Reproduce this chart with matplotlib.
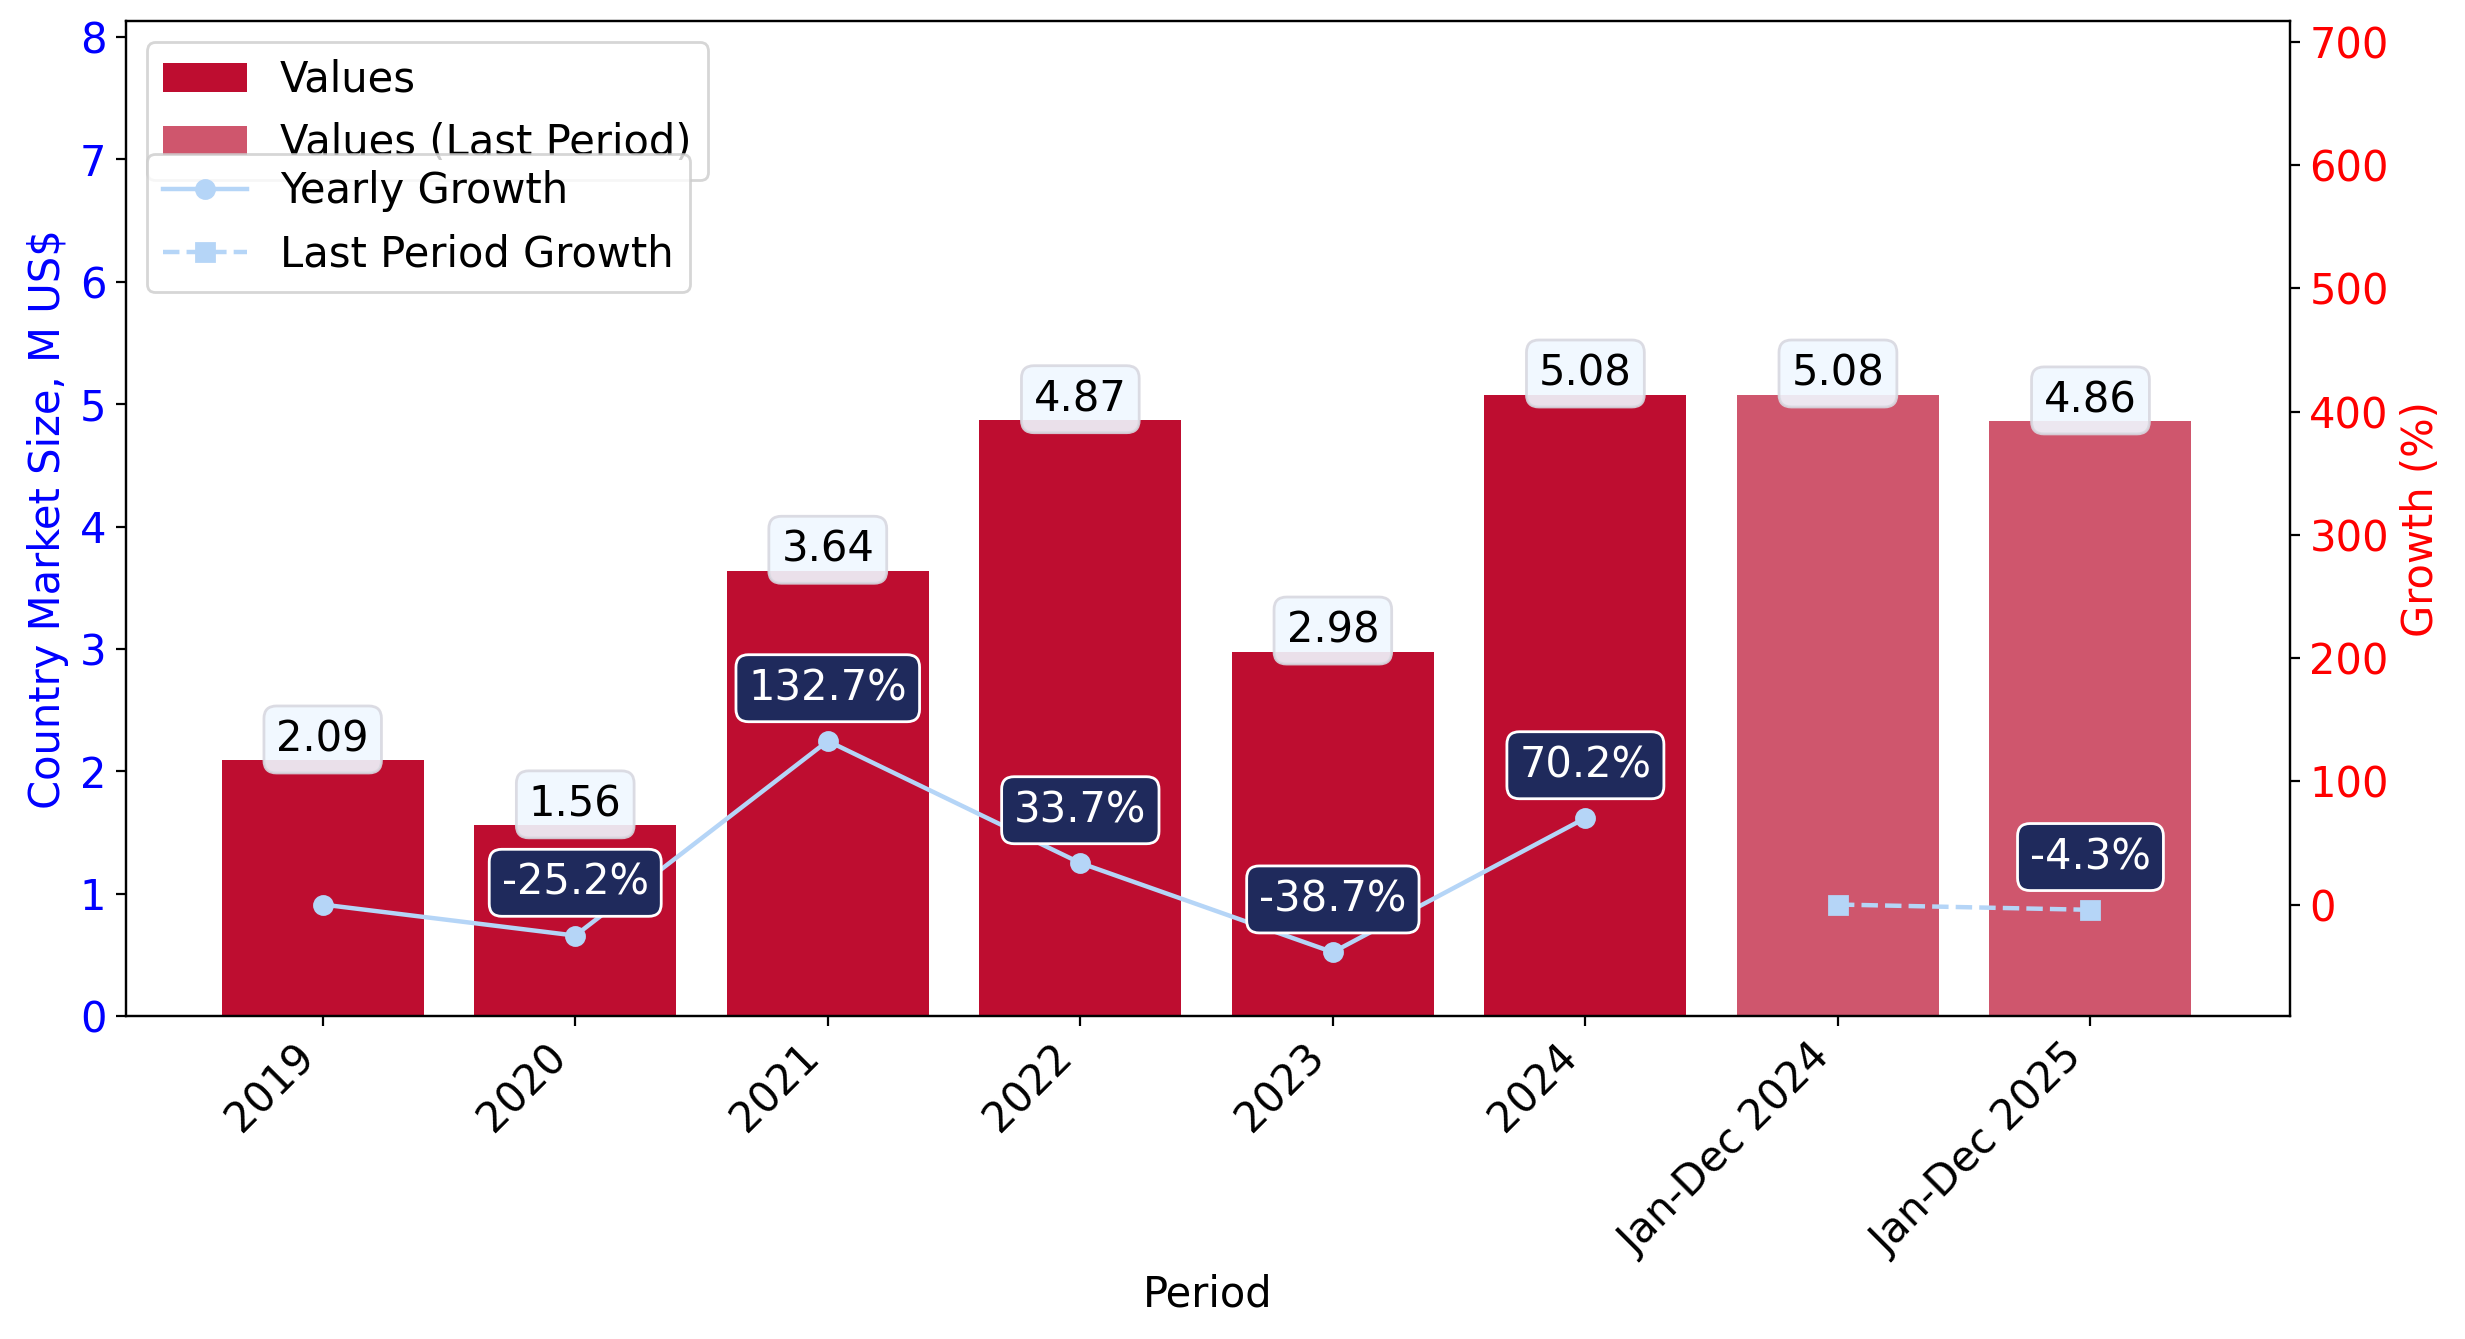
import matplotlib
matplotlib.use("Agg")
import matplotlib.pyplot as plt
import numpy as np

periods = ["2019", "2020", "2021", "2022", "2023", "2024", "Jan-Dec 2024", "Jan-Dec 2025"]
values = [2.09, 1.56, 3.64, 4.87, 2.98, 5.08, 5.08, 4.86]
is_last_period = [False, False, False, False, False, False, True, True]
yearly_growth = [0.0, -25.2, 132.7, 33.7, -38.7, 70.2]
last_growth = [0.0, -4.3]

bar_color = "#BE0D30"
bar_last_color = "#CF566D"
line_color = "#B5D5F7"
label_dark = "#1F2A5C"
FS = 15

plt.rcParams['font.family'] = ['DejaVu Sans']
fig = plt.figure(figsize=(12.325, 6.695), dpi=200)
ax1 = fig.add_axes([0.051, 0.241, 0.878, 0.743])
ax2 = ax1.twinx()

x = np.arange(len(periods))
b1 = ax1.bar([i for i in x if not is_last_period[i]], [v for v, l in zip(values, is_last_period) if not l],
             width=0.8, color=bar_color, label="Values")
b2 = ax1.bar([i for i in x if is_last_period[i]], [v for v, l in zip(values, is_last_period) if l],
             width=0.8, color=bar_last_color, label="Values (Last Period)")
ax1.set_ylim(0, max(values) * 1.6)
ax1.set_xlim(-0.78, len(periods) - 0.21)

for xi, v in zip(x, values):
    ax1.annotate(f"{v:.2f}", (xi, v), xytext=(0, 0), textcoords="offset points",
                 ha="center", va="bottom", fontsize=FS, color="black",
                 bbox=dict(boxstyle="round,pad=0.3", facecolor="#F0F8FF", edgecolor="#D8D8E0", alpha=0.9),
                 zorder=5)

xg = x[:len(yearly_growth)]
xl = x[len(yearly_growth):]
l1, = ax2.plot(xg, yearly_growth, color=line_color, marker="o", linewidth=1.6, markersize=6.5, label="Yearly Growth")
l2, = ax2.plot(xl, last_growth, color=line_color, marker="s", linestyle="--", linewidth=1.6, markersize=6.5,
               label="Last Period Growth")

for xi, g in list(zip(xg, yearly_growth)) + list(zip(xl, last_growth)):
    if xi == 0 or xi == len(yearly_growth):
        continue
    ax2.annotate(f"{g:.1f}%", (xi, g), xytext=(0, 19), textcoords="offset points",
                 ha="center", va="center", fontsize=FS, color="white",
                 bbox=dict(boxstyle="round,pad=0.3", facecolor=label_dark, edgecolor="white"),
                 zorder=6)

ax2.set_ylim(-90.7, 716.6)

ax1.set_xticks(x)
ax1.set_xticklabels(periods, rotation=45, ha="right", fontsize=FS)
ax1.set_xlabel("Period", fontsize=FS)
ax1.set_ylabel("Country Market Size, M US$", fontsize=FS, color="blue")
ax1.tick_params(axis="y", labelcolor="blue", labelsize=FS)
ax2.set_ylabel("Growth (%)", fontsize=FS, color="red")
ax2.tick_params(axis="y", labelcolor="red", labelsize=FS)

leg1 = ax1.legend(handles=[b1, b2], loc="upper left", fontsize=FS)
ax2.legend(handles=[l1, l2], loc="upper left", bbox_to_anchor=(0, 0.888), fontsize=FS)

fig.savefig("out.png", dpi=200)
